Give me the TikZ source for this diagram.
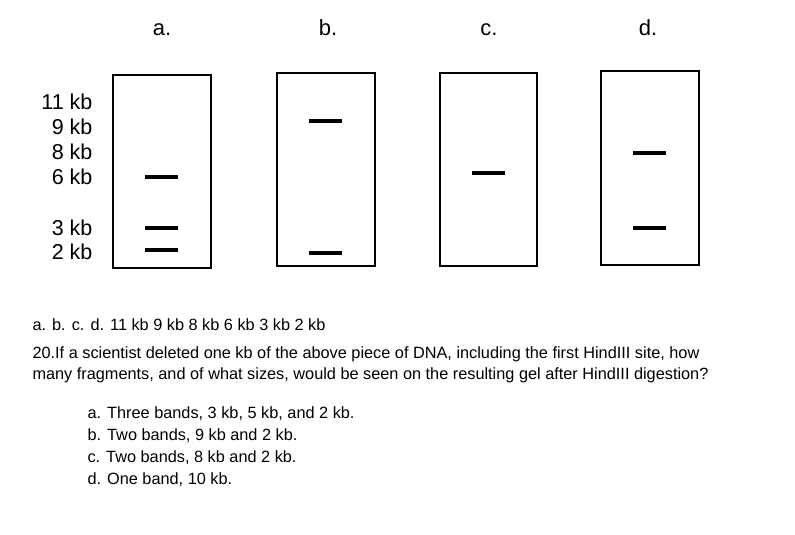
\documentclass[tikz,border=0pt]{standalone}
\usepackage{fontspec}
\setmainfont{Liberation Sans}
\begin{document}
\begin{tikzpicture}[x=1pt,y=-1pt,
  gel/.style={draw,line width=1.6pt},
  band/.style={line width=3.3pt},
  lab/.style={anchor=base,font=\fontsize{22}{24}\selectfont},
  sz/.style={anchor=east,font=\fontsize{21.5}{24}\selectfont},
  txt/.style={anchor=west,font=\fontsize{16.3}{18}\selectfont}]
\useasboundingbox (0,0) rectangle (795,535);
\node[lab] (la) at (162,36) {a.};
\node[lab] (lb) at (328,36) {b.};
\node[lab] (lc) at (489,36) {c.};
\node[lab] (ld) at (648,36) {d.};
\draw[gel] (113,75) rectangle (211,268);
\draw[gel] (277,73) rectangle (375,266);
\draw[gel] (440,73) rectangle (537,266);
\draw[gel] (601,71) rectangle (699,265);
\foreach \t/\y in {11 kb/102,9 kb/127,8 kb/152,6 kb/177,3 kb/228,2 kb/252}
  \node[sz] at (96,\y) {\t};
\foreach \x/\y in {145/177,145/228,145/250,309/121,309/253,472/173,633/153,633/228}
  \draw[band] (\x,\y) -- ++(33,0);
\node[txt] (s) at (29,325) {a. b. c. d. 11 kb 9 kb 8 kb 6 kb 3 kb 2 kb};
\node[txt] (q1) at (29,354) {20.If a scientist deleted one kb of the above piece of DNA, including the first HindIII site, how};
\node[txt] (q2) at (29,375) {many fragments, and of what sizes, would be seen on the resulting gel after HindIII digestion?};
\node[txt] (o1) at (84,414) {a. Three bands, 3 kb, 5 kb, and 2 kb.};
\node[txt] (o2) at (84,436) {b. Two bands, 9 kb and 2 kb.};
\node[txt] (o3) at (84,458) {c. Two bands, 8 kb and 2 kb.};
\node[txt] (o4) at (84,480) {d. One band, 10 kb.};
\end{tikzpicture}
\end{document}
